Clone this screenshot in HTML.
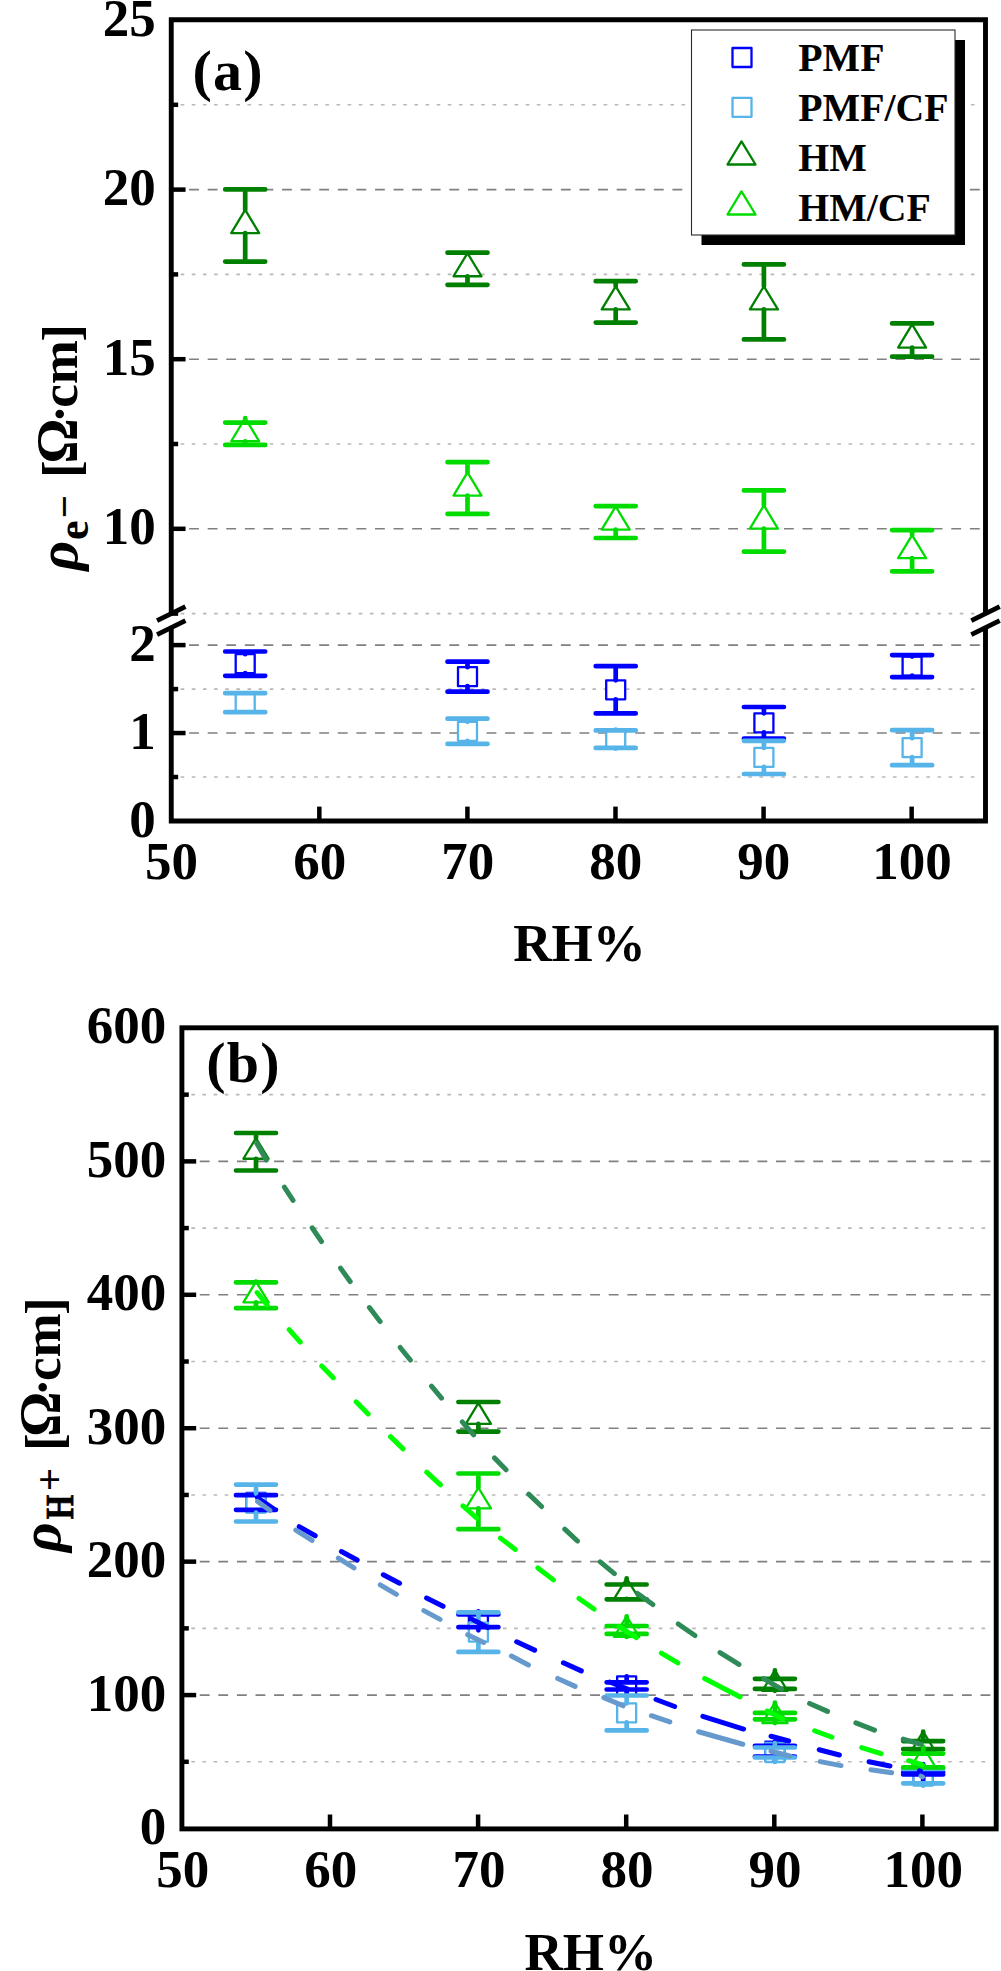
<!DOCTYPE html>
<html lang="en"><head><meta charset="utf-8"><title>Resistivity vs RH%</title>
<style>html,body{margin:0;padding:0;background:#fff}svg{display:block}</style></head>
<body>
<svg width="1001" height="1971" viewBox="0 0 1001 1971" font-family="'Liberation Serif', 'DejaVu Serif', serif" font-weight="bold" fill="#000">
<rect width="1001" height="1971" fill="#fff"/>
<g id="panelA">
<line x1="169.55" y1="104.8" x2="980" y2="104.8" stroke="#b8b8b8" stroke-width="1.6" stroke-dasharray="3.6 7.53" stroke-dashoffset="0"/>
<line x1="169.55" y1="274.4" x2="980" y2="274.4" stroke="#b8b8b8" stroke-width="1.6" stroke-dasharray="3.6 7.53" stroke-dashoffset="0"/>
<line x1="169.55" y1="444" x2="980" y2="444" stroke="#b8b8b8" stroke-width="1.6" stroke-dasharray="3.6 7.53" stroke-dashoffset="0"/>
<line x1="169.55" y1="613.6" x2="980" y2="613.6" stroke="#b8b8b8" stroke-width="1.6" stroke-dasharray="3.6 7.53" stroke-dashoffset="0"/>
<line x1="169.55" y1="689.08" x2="980" y2="689.08" stroke="#b8b8b8" stroke-width="1.6" stroke-dasharray="3.6 7.53" stroke-dashoffset="0"/>
<line x1="169.55" y1="777.02" x2="980" y2="777.02" stroke="#b8b8b8" stroke-width="1.6" stroke-dasharray="3.6 7.53" stroke-dashoffset="0"/>
<line x1="170.5" y1="189.6" x2="980.5" y2="189.6" stroke="#808080" stroke-width="1.6" stroke-dasharray="9.85 8.74" stroke-dashoffset="0"/>
<line x1="170.5" y1="359.2" x2="980.5" y2="359.2" stroke="#808080" stroke-width="1.6" stroke-dasharray="9.85 8.74" stroke-dashoffset="0"/>
<line x1="170.5" y1="528.8" x2="980.5" y2="528.8" stroke="#808080" stroke-width="1.6" stroke-dasharray="9.85 8.74" stroke-dashoffset="0"/>
<line x1="170.5" y1="645.1" x2="980.5" y2="645.1" stroke="#808080" stroke-width="1.6" stroke-dasharray="9.85 8.74" stroke-dashoffset="0"/>
<line x1="170.5" y1="733.05" x2="980.5" y2="733.05" stroke="#808080" stroke-width="1.6" stroke-dasharray="9.85 8.74" stroke-dashoffset="0"/>
<path d="M171.25 613.7V19.8H985.5V613.7M171.25 627.7V821H985.5V627.7" fill="none" stroke="#000" stroke-width="4.9" stroke-linejoin="miter"/>
<line x1="157.05" y1="620.7" x2="185.45" y2="606.7" stroke="#000" stroke-width="4.8"/>
<line x1="157.05" y1="634.7" x2="185.45" y2="620.7" stroke="#000" stroke-width="4.8"/>
<line x1="971.3" y1="620.7" x2="999.7" y2="606.7" stroke="#000" stroke-width="4.8"/>
<line x1="971.3" y1="634.7" x2="999.7" y2="620.7" stroke="#000" stroke-width="4.8"/>
<line x1="171.25" y1="189.6" x2="185.55" y2="189.6" stroke="#000" stroke-width="4.5"/>
<line x1="171.25" y1="359.2" x2="185.55" y2="359.2" stroke="#000" stroke-width="4.5"/>
<line x1="171.25" y1="528.8" x2="185.55" y2="528.8" stroke="#000" stroke-width="4.5"/>
<line x1="171.25" y1="645.1" x2="185.55" y2="645.1" stroke="#000" stroke-width="4.5"/>
<line x1="171.25" y1="733.05" x2="185.55" y2="733.05" stroke="#000" stroke-width="4.5"/>
<line x1="171.25" y1="104.8" x2="178.15" y2="104.8" stroke="#000" stroke-width="4.5"/>
<line x1="171.25" y1="274.4" x2="178.15" y2="274.4" stroke="#000" stroke-width="4.5"/>
<line x1="171.25" y1="444" x2="178.15" y2="444" stroke="#000" stroke-width="4.5"/>
<line x1="171.25" y1="613.6" x2="178.15" y2="613.6" stroke="#000" stroke-width="4.5"/>
<line x1="171.25" y1="689.08" x2="178.15" y2="689.08" stroke="#000" stroke-width="4.5"/>
<line x1="171.25" y1="777.02" x2="178.15" y2="777.02" stroke="#000" stroke-width="4.5"/>
<line x1="319.33" y1="821" x2="319.33" y2="806.6" stroke="#000" stroke-width="4.5"/>
<line x1="467.41" y1="821" x2="467.41" y2="806.6" stroke="#000" stroke-width="4.5"/>
<line x1="615.49" y1="821" x2="615.49" y2="806.6" stroke="#000" stroke-width="4.5"/>
<line x1="763.57" y1="821" x2="763.57" y2="806.6" stroke="#000" stroke-width="4.5"/>
<line x1="911.65" y1="821" x2="911.65" y2="806.6" stroke="#000" stroke-width="4.5"/>
<text x="155.75" y="35.5" font-size="53" text-anchor="end">25</text>
<text x="155.75" y="205.1" font-size="53" text-anchor="end">20</text>
<text x="155.75" y="374.7" font-size="53" text-anchor="end">15</text>
<text x="155.75" y="544.3" font-size="53" text-anchor="end">10</text>
<text x="155.75" y="660.6" font-size="53" text-anchor="end">2</text>
<text x="155.75" y="748.55" font-size="53" text-anchor="end">1</text>
<text x="155.75" y="836.5" font-size="53" text-anchor="end">0</text>
<text x="171.55" y="878.6" font-size="53" text-anchor="middle">50</text>
<text x="319.63" y="878.6" font-size="53" text-anchor="middle">60</text>
<text x="467.71" y="878.6" font-size="53" text-anchor="middle">70</text>
<text x="615.79" y="878.6" font-size="53" text-anchor="middle">80</text>
<text x="763.87" y="878.6" font-size="53" text-anchor="middle">90</text>
<text x="911.95" y="878.6" font-size="53" text-anchor="middle">100</text>
<text x="579.38" y="960.6" font-size="53" text-anchor="middle">RH%</text>
<text x="192.6" y="89.8" font-size="58" text-anchor="start" letter-spacing="1.2">(a)</text>
<g transform="translate(77 572) rotate(-90)">
<text x="1.4" y="0" font-size="57.5" font-style="italic">ρ</text>
<text x="32" y="11" font-size="44">e</text>
<text x="53.8" y="1.1" font-size="41">−</text>
<text x="94.1" y="2" font-size="53">[</text>
<text transform="translate(108.4 0) scale(0.94 1)" font-size="60">Ω</text>
<text x="149.2" y="0" font-size="53">·</text>
<text x="164.2" y="0" font-size="53">cm</text>
<text x="230.3" y="2" font-size="53">]</text>
</g>
<rect x="235.7" y="654.15" width="19" height="19" fill="#fff" stroke="#0000ff" stroke-width="2.3" stroke-linejoin="round"/>
<rect x="458" y="667.2" width="19" height="19" fill="#fff" stroke="#0000ff" stroke-width="2.3" stroke-linejoin="round"/>
<rect x="606.2" y="680.3" width="19" height="19" fill="#fff" stroke="#0000ff" stroke-width="2.3" stroke-linejoin="round"/>
<rect x="754.4" y="713.35" width="19" height="19" fill="#fff" stroke="#0000ff" stroke-width="2.3" stroke-linejoin="round"/>
<rect x="902.6" y="656.6" width="19" height="19" fill="#fff" stroke="#0000ff" stroke-width="2.3" stroke-linejoin="round"/>
<rect x="235.7" y="693.2" width="19" height="19" fill="#fff" stroke="#56b4e9" stroke-width="2.3" stroke-linejoin="round"/>
<rect x="458" y="721.8" width="19" height="19" fill="#fff" stroke="#56b4e9" stroke-width="2.3" stroke-linejoin="round"/>
<rect x="606.2" y="729.65" width="19" height="19" fill="#fff" stroke="#56b4e9" stroke-width="2.3" stroke-linejoin="round"/>
<rect x="754.4" y="747.9" width="19" height="19" fill="#fff" stroke="#56b4e9" stroke-width="2.3" stroke-linejoin="round"/>
<rect x="902.6" y="738.2" width="19" height="19" fill="#fff" stroke="#56b4e9" stroke-width="2.3" stroke-linejoin="round"/>
<path d="M245.2 209.93L259.2 233.03L231.2 233.03Z" fill="#fff" stroke="#008000" stroke-width="2.3" stroke-linejoin="round"/>
<path d="M467.5 253.15L481.5 276.25L453.5 276.25Z" fill="#fff" stroke="#008000" stroke-width="2.3" stroke-linejoin="round"/>
<path d="M615.7 286.3L629.7 309.4L601.7 309.4Z" fill="#fff" stroke="#008000" stroke-width="2.3" stroke-linejoin="round"/>
<path d="M763.9 286.3L777.9 309.4L749.9 309.4Z" fill="#fff" stroke="#008000" stroke-width="2.3" stroke-linejoin="round"/>
<path d="M912.1 324.45L926.1 347.55L898.1 347.55Z" fill="#fff" stroke="#008000" stroke-width="2.3" stroke-linejoin="round"/>
<path d="M245.2 418.15L259.2 441.25L231.2 441.25Z" fill="#fff" stroke="#00dc00" stroke-width="2.3" stroke-linejoin="round"/>
<path d="M467.5 472.45L481.5 495.55L453.5 495.55Z" fill="#fff" stroke="#00dc00" stroke-width="2.3" stroke-linejoin="round"/>
<path d="M615.7 506.45L629.7 529.55L601.7 529.55Z" fill="#fff" stroke="#00dc00" stroke-width="2.3" stroke-linejoin="round"/>
<path d="M763.9 505.45L777.9 528.55L749.9 528.55Z" fill="#fff" stroke="#00dc00" stroke-width="2.3" stroke-linejoin="round"/>
<path d="M912.1 535.1L926.1 558.2L898.1 558.2Z" fill="#fff" stroke="#00dc00" stroke-width="2.3" stroke-linejoin="round"/>
<path d="M245.2 654.15V651.5M245.2 673.15V675.8M225.2 651.5H265.2M225.2 675.8H265.2" fill="none" stroke="#0000ff" stroke-width="4.7" stroke-linecap="round"/>
<path d="M467.5 667.2V661.7M467.5 686.2V691.7M447.5 661.7H487.5M447.5 691.7H487.5" fill="none" stroke="#0000ff" stroke-width="4.7" stroke-linecap="round"/>
<path d="M615.7 680.3V666.2M615.7 699.3V713.4M595.7 666.2H635.7M595.7 713.4H635.7" fill="none" stroke="#0000ff" stroke-width="4.7" stroke-linecap="round"/>
<path d="M763.9 713.35V707M763.9 732.35V738.7M743.9 707H783.9M743.9 738.7H783.9" fill="none" stroke="#0000ff" stroke-width="4.7" stroke-linecap="round"/>
<path d="M912.1 656.6V655.1M912.1 675.6V677.1M892.1 655.1H932.1M892.1 677.1H932.1" fill="none" stroke="#0000ff" stroke-width="4.7" stroke-linecap="round"/>
<path d="M245.2 693.2V693.2M245.2 712.2V712.2M225.2 693.2H265.2M225.2 712.2H265.2" fill="none" stroke="#56b4e9" stroke-width="4.7" stroke-linecap="round"/>
<path d="M467.5 721.8V718.7M467.5 740.8V743.9M447.5 718.7H487.5M447.5 743.9H487.5" fill="none" stroke="#56b4e9" stroke-width="4.7" stroke-linecap="round"/>
<path d="M615.7 729.65V730.4M615.7 748.65V747.9M595.7 730.4H635.7M595.7 747.9H635.7" fill="none" stroke="#56b4e9" stroke-width="4.7" stroke-linecap="round"/>
<path d="M763.9 747.9V740.8M763.9 766.9V774M743.9 740.8H783.9M743.9 774H783.9" fill="none" stroke="#56b4e9" stroke-width="4.7" stroke-linecap="round"/>
<path d="M912.1 738.2V730.2M912.1 757.2V765.2M892.1 730.2H932.1M892.1 765.2H932.1" fill="none" stroke="#56b4e9" stroke-width="4.7" stroke-linecap="round"/>
<path d="M245.2 209.93V189.45M245.2 233.03V261.6M225.2 189.45H265.2M225.2 261.6H265.2" fill="none" stroke="#008000" stroke-width="4.7" stroke-linecap="round"/>
<path d="M467.5 253.15V252.7M467.5 276.25V284.8M447.5 252.7H487.5M447.5 284.8H487.5" fill="none" stroke="#008000" stroke-width="4.7" stroke-linecap="round"/>
<path d="M615.7 286.3V281.2M615.7 309.4V322.6M595.7 281.2H635.7M595.7 322.6H635.7" fill="none" stroke="#008000" stroke-width="4.7" stroke-linecap="round"/>
<path d="M763.9 286.3V264.4M763.9 309.4V339.4M743.9 264.4H783.9M743.9 339.4H783.9" fill="none" stroke="#008000" stroke-width="4.7" stroke-linecap="round"/>
<path d="M912.1 324.45V323.4M912.1 347.55V356.7M892.1 323.4H932.1M892.1 356.7H932.1" fill="none" stroke="#008000" stroke-width="4.7" stroke-linecap="round"/>
<path d="M245.2 418.15V422.6M245.2 441.25V444.9M225.2 422.6H265.2M225.2 444.9H265.2" fill="none" stroke="#00dc00" stroke-width="4.7" stroke-linecap="round"/>
<path d="M467.5 472.45V462.2M467.5 495.55V513.9M447.5 462.2H487.5M447.5 513.9H487.5" fill="none" stroke="#00dc00" stroke-width="4.7" stroke-linecap="round"/>
<path d="M615.7 506.45V506.1M615.7 529.55V538M595.7 506.1H635.7M595.7 538H635.7" fill="none" stroke="#00dc00" stroke-width="4.7" stroke-linecap="round"/>
<path d="M763.9 505.45V490.4M763.9 528.55V551.7M743.9 490.4H783.9M743.9 551.7H783.9" fill="none" stroke="#00dc00" stroke-width="4.7" stroke-linecap="round"/>
<path d="M912.1 535.1V530.1M912.1 558.2V571.3M892.1 530.1H932.1M892.1 571.3H932.1" fill="none" stroke="#00dc00" stroke-width="4.7" stroke-linecap="round"/>
<rect x="701.5" y="40" width="263.5" height="205" fill="#000"/>
<rect x="691.5" y="30" width="263.5" height="205" fill="#fff" stroke="#2a2a2a" stroke-width="1.1"/>
<rect x="732.5" y="48" width="19" height="19" fill="#fff" stroke="#0000ff" stroke-width="2.3" stroke-linejoin="round"/>
<rect x="732.5" y="97.8" width="19" height="19" fill="#fff" stroke="#56b4e9" stroke-width="2.3" stroke-linejoin="round"/>
<path d="M741.5 141.4L755.5 164.5L727.5 164.5Z" fill="#fff" stroke="#008000" stroke-width="2.3" stroke-linejoin="round"/>
<path d="M741.5 191.4L755.5 214.5L727.5 214.5Z" fill="#fff" stroke="#00dc00" stroke-width="2.3" stroke-linejoin="round"/>
<text x="798.3" y="71.2" font-size="39.8" text-anchor="start">PMF</text>
<text x="798.3" y="121" font-size="39.8" text-anchor="start">PMF/CF</text>
<text x="798.3" y="170.8" font-size="39.8" text-anchor="start">HM</text>
<text x="798.3" y="220.6" font-size="39.8" text-anchor="start">HM/CF</text>
</g>
<g id="panelB">
<line x1="180.2" y1="1761.79" x2="990.7" y2="1761.79" stroke="#b8b8b8" stroke-width="1.6" stroke-dasharray="3.6 7.53" stroke-dashoffset="0"/>
<line x1="180.2" y1="1628.36" x2="990.7" y2="1628.36" stroke="#b8b8b8" stroke-width="1.6" stroke-dasharray="3.6 7.53" stroke-dashoffset="0"/>
<line x1="180.2" y1="1494.94" x2="990.7" y2="1494.94" stroke="#b8b8b8" stroke-width="1.6" stroke-dasharray="3.6 7.53" stroke-dashoffset="0"/>
<line x1="180.2" y1="1361.51" x2="990.7" y2="1361.51" stroke="#b8b8b8" stroke-width="1.6" stroke-dasharray="3.6 7.53" stroke-dashoffset="0"/>
<line x1="180.2" y1="1228.09" x2="990.7" y2="1228.09" stroke="#b8b8b8" stroke-width="1.6" stroke-dasharray="3.6 7.53" stroke-dashoffset="0"/>
<line x1="180.2" y1="1094.66" x2="990.7" y2="1094.66" stroke="#b8b8b8" stroke-width="1.6" stroke-dasharray="3.6 7.53" stroke-dashoffset="0"/>
<line x1="181.15" y1="1695.08" x2="991.2" y2="1695.08" stroke="#808080" stroke-width="1.6" stroke-dasharray="9.85 8.74" stroke-dashoffset="0"/>
<line x1="181.15" y1="1561.65" x2="991.2" y2="1561.65" stroke="#808080" stroke-width="1.6" stroke-dasharray="9.85 8.74" stroke-dashoffset="0"/>
<line x1="181.15" y1="1428.22" x2="991.2" y2="1428.22" stroke="#808080" stroke-width="1.6" stroke-dasharray="9.85 8.74" stroke-dashoffset="0"/>
<line x1="181.15" y1="1294.8" x2="991.2" y2="1294.8" stroke="#808080" stroke-width="1.6" stroke-dasharray="9.85 8.74" stroke-dashoffset="0"/>
<line x1="181.15" y1="1161.38" x2="991.2" y2="1161.38" stroke="#808080" stroke-width="1.6" stroke-dasharray="9.85 8.74" stroke-dashoffset="0"/>
<rect x="181.9" y="1027.8" width="814.3" height="801.1" fill="none" stroke="#000" stroke-width="4.9"/>
<line x1="181.9" y1="1695.08" x2="196.2" y2="1695.08" stroke="#000" stroke-width="4.5"/>
<line x1="181.9" y1="1561.65" x2="196.2" y2="1561.65" stroke="#000" stroke-width="4.5"/>
<line x1="181.9" y1="1428.22" x2="196.2" y2="1428.22" stroke="#000" stroke-width="4.5"/>
<line x1="181.9" y1="1294.8" x2="196.2" y2="1294.8" stroke="#000" stroke-width="4.5"/>
<line x1="181.9" y1="1161.38" x2="196.2" y2="1161.38" stroke="#000" stroke-width="4.5"/>
<line x1="181.9" y1="1761.79" x2="188.8" y2="1761.79" stroke="#000" stroke-width="4.5"/>
<line x1="181.9" y1="1628.36" x2="188.8" y2="1628.36" stroke="#000" stroke-width="4.5"/>
<line x1="181.9" y1="1494.94" x2="188.8" y2="1494.94" stroke="#000" stroke-width="4.5"/>
<line x1="181.9" y1="1361.51" x2="188.8" y2="1361.51" stroke="#000" stroke-width="4.5"/>
<line x1="181.9" y1="1228.09" x2="188.8" y2="1228.09" stroke="#000" stroke-width="4.5"/>
<line x1="181.9" y1="1094.66" x2="188.8" y2="1094.66" stroke="#000" stroke-width="4.5"/>
<line x1="330" y1="1828.9" x2="330" y2="1814.5" stroke="#000" stroke-width="4.5"/>
<line x1="478.1" y1="1828.9" x2="478.1" y2="1814.5" stroke="#000" stroke-width="4.5"/>
<line x1="626.2" y1="1828.9" x2="626.2" y2="1814.5" stroke="#000" stroke-width="4.5"/>
<line x1="774.3" y1="1828.9" x2="774.3" y2="1814.5" stroke="#000" stroke-width="4.5"/>
<line x1="922.4" y1="1828.9" x2="922.4" y2="1814.5" stroke="#000" stroke-width="4.5"/>
<text x="166.2" y="1844" font-size="53" text-anchor="end">0</text>
<text x="166.2" y="1710.58" font-size="53" text-anchor="end">100</text>
<text x="166.2" y="1577.15" font-size="53" text-anchor="end">200</text>
<text x="166.2" y="1443.72" font-size="53" text-anchor="end">300</text>
<text x="166.2" y="1310.3" font-size="53" text-anchor="end">400</text>
<text x="166.2" y="1176.88" font-size="53" text-anchor="end">500</text>
<text x="166.2" y="1043.45" font-size="53" text-anchor="end">600</text>
<text x="182.7" y="1886.8" font-size="53" text-anchor="middle">50</text>
<text x="330.8" y="1886.8" font-size="53" text-anchor="middle">60</text>
<text x="478.9" y="1886.8" font-size="53" text-anchor="middle">70</text>
<text x="627" y="1886.8" font-size="53" text-anchor="middle">80</text>
<text x="775.1" y="1886.8" font-size="53" text-anchor="middle">90</text>
<text x="923.2" y="1886.8" font-size="53" text-anchor="middle">100</text>
<text x="590.75" y="1969.5" font-size="53" text-anchor="middle">RH%</text>
<text x="206.3" y="1081.7" font-size="58" text-anchor="start" letter-spacing="1.2">(b)</text>
<g transform="translate(60 1553.5) rotate(-90)">
<text x="1.4" y="0" font-size="57.5" font-style="italic">ρ</text>
<text transform="translate(34.3 12.8) scale(0.8 1)" font-size="39.2" stroke="#000" stroke-width="0.8">H</text>
<text x="62.3" y="3.4" font-size="41">+</text>
<text x="102.4" y="2" font-size="53">[</text>
<text transform="translate(116.7 0) scale(0.94 1)" font-size="60">Ω</text>
<text x="157.5" y="0" font-size="53">·</text>
<text x="172.5" y="0" font-size="53">cm</text>
<text x="238.6" y="2" font-size="53">]</text>
</g>
<rect x="246.5" y="1493" width="19" height="19" fill="#fff" stroke="#0000ff" stroke-width="2.3" stroke-linejoin="round"/>
<rect x="468.89" y="1611.35" width="19" height="19" fill="#fff" stroke="#0000ff" stroke-width="2.3" stroke-linejoin="round"/>
<rect x="617.15" y="1676.4" width="19" height="19" fill="#fff" stroke="#0000ff" stroke-width="2.3" stroke-linejoin="round"/>
<rect x="765.41" y="1741.65" width="19" height="19" fill="#fff" stroke="#0000ff" stroke-width="2.3" stroke-linejoin="round"/>
<rect x="913.67" y="1764" width="19" height="19" fill="#fff" stroke="#0000ff" stroke-width="2.3" stroke-linejoin="round"/>
<rect x="246.5" y="1493.55" width="19" height="19" fill="#fff" stroke="#56b4e9" stroke-width="2.3" stroke-linejoin="round"/>
<rect x="468.89" y="1622.65" width="19" height="19" fill="#fff" stroke="#56b4e9" stroke-width="2.3" stroke-linejoin="round"/>
<rect x="617.15" y="1703.45" width="19" height="19" fill="#fff" stroke="#56b4e9" stroke-width="2.3" stroke-linejoin="round"/>
<rect x="765.41" y="1743" width="19" height="19" fill="#fff" stroke="#56b4e9" stroke-width="2.3" stroke-linejoin="round"/>
<rect x="913.67" y="1766.65" width="19" height="19" fill="#fff" stroke="#56b4e9" stroke-width="2.3" stroke-linejoin="round"/>
<path d="M256 1138.15L268.6 1158.75L243.4 1158.75Z" fill="#fff" stroke="#008000" stroke-width="2.3" stroke-linejoin="round"/>
<path d="M478.39 1403.2L490.99 1423.8L465.79 1423.8Z" fill="#fff" stroke="#008000" stroke-width="2.3" stroke-linejoin="round"/>
<path d="M626.65 1578.3L639.25 1598.9L614.05 1598.9Z" fill="#fff" stroke="#008000" stroke-width="2.3" stroke-linejoin="round"/>
<path d="M774.91 1670.25L787.51 1690.85L762.31 1690.85Z" fill="#fff" stroke="#008000" stroke-width="2.3" stroke-linejoin="round"/>
<path d="M923.17 1731.55L935.77 1752.15L910.57 1752.15Z" fill="#fff" stroke="#008000" stroke-width="2.3" stroke-linejoin="round"/>
<path d="M256 1281.7L268.6 1302.3L243.4 1302.3Z" fill="#fff" stroke="#00dc00" stroke-width="2.3" stroke-linejoin="round"/>
<path d="M478.39 1487.75L490.99 1508.35L465.79 1508.35Z" fill="#fff" stroke="#00dc00" stroke-width="2.3" stroke-linejoin="round"/>
<path d="M626.65 1616.35L639.25 1636.95L614.05 1636.95Z" fill="#fff" stroke="#00dc00" stroke-width="2.3" stroke-linejoin="round"/>
<path d="M774.91 1702.5L787.51 1723.1L762.31 1723.1Z" fill="#fff" stroke="#00dc00" stroke-width="2.3" stroke-linejoin="round"/>
<path d="M923.17 1746.9L935.77 1767.5L910.57 1767.5Z" fill="#fff" stroke="#00dc00" stroke-width="2.3" stroke-linejoin="round"/>
<path d="M256 1493V1495.2M256 1512V1509.8M236 1495.2H276M236 1509.8H276" fill="none" stroke="#0000ff" stroke-width="4.7" stroke-linecap="round"/>
<path d="M478.39 1611.35V1614.5M478.39 1630.35V1627.2M458.39 1614.5H498.39M458.39 1627.2H498.39" fill="none" stroke="#0000ff" stroke-width="4.7" stroke-linecap="round"/>
<path d="M626.65 1676.4V1682.3M626.65 1695.4V1689.5M606.65 1682.3H646.65M606.65 1689.5H646.65" fill="none" stroke="#0000ff" stroke-width="4.7" stroke-linecap="round"/>
<path d="M774.91 1741.65V1745.8M774.91 1760.65V1756.5M754.91 1745.8H794.91M754.91 1756.5H794.91" fill="none" stroke="#0000ff" stroke-width="4.7" stroke-linecap="round"/>
<path d="M923.17 1764V1772.5M923.17 1783V1774.5M903.17 1772.5H943.17M903.17 1774.5H943.17" fill="none" stroke="#0000ff" stroke-width="4.7" stroke-linecap="round"/>
<path d="M256 1493.55V1484.6M256 1512.55V1521.5M236 1484.6H276M236 1521.5H276" fill="none" stroke="#56b4e9" stroke-width="4.7" stroke-linecap="round"/>
<path d="M478.39 1622.65V1612.4M478.39 1641.65V1651.9M458.39 1612.4H498.39M458.39 1651.9H498.39" fill="none" stroke="#56b4e9" stroke-width="4.7" stroke-linecap="round"/>
<path d="M626.65 1703.45V1695.5M626.65 1722.45V1730.4M606.65 1695.5H646.65M606.65 1730.4H646.65" fill="none" stroke="#56b4e9" stroke-width="4.7" stroke-linecap="round"/>
<path d="M774.91 1743V1747.5M774.91 1762V1757.5M754.91 1747.5H794.91M754.91 1757.5H794.91" fill="none" stroke="#56b4e9" stroke-width="4.7" stroke-linecap="round"/>
<path d="M923.17 1766.65V1769M923.17 1785.65V1783.3M903.17 1769H943.17M903.17 1783.3H943.17" fill="none" stroke="#56b4e9" stroke-width="4.7" stroke-linecap="round"/>
<path d="M256 1138.15V1133M256 1158.75V1170.5M236 1133H276M236 1170.5H276" fill="none" stroke="#008000" stroke-width="4.7" stroke-linecap="round"/>
<path d="M478.39 1403.2V1402M478.39 1423.8V1431.6M458.39 1402H498.39M458.39 1431.6H498.39" fill="none" stroke="#008000" stroke-width="4.7" stroke-linecap="round"/>
<path d="M626.65 1578.3V1584.5M626.65 1598.9V1599.3M606.65 1584.5H646.65M606.65 1599.3H646.65" fill="none" stroke="#008000" stroke-width="4.7" stroke-linecap="round"/>
<path d="M774.91 1670.25V1678.8M774.91 1690.85V1688.9M754.91 1678.8H794.91M754.91 1688.9H794.91" fill="none" stroke="#008000" stroke-width="4.7" stroke-linecap="round"/>
<path d="M923.17 1731.55V1741.1M923.17 1752.15V1749.2M903.17 1741.1H943.17M903.17 1749.2H943.17" fill="none" stroke="#008000" stroke-width="4.7" stroke-linecap="round"/>
<path d="M256 1281.7V1282.4M256 1302.3V1308.2M236 1282.4H276M236 1308.2H276" fill="none" stroke="#00dc00" stroke-width="4.7" stroke-linecap="round"/>
<path d="M478.39 1487.75V1473.5M478.39 1508.35V1529.2M458.39 1473.5H498.39M458.39 1529.2H498.39" fill="none" stroke="#00dc00" stroke-width="4.7" stroke-linecap="round"/>
<path d="M626.65 1616.35V1626M626.65 1636.95V1633.9M606.65 1626H646.65M606.65 1633.9H646.65" fill="none" stroke="#00dc00" stroke-width="4.7" stroke-linecap="round"/>
<path d="M774.91 1702.5V1712.9M774.91 1723.1V1719.3M754.91 1712.9H794.91M754.91 1719.3H794.91" fill="none" stroke="#00dc00" stroke-width="4.7" stroke-linecap="round"/>
<path d="M923.17 1746.9V1753.6M923.17 1767.5V1767.4M903.17 1753.6H943.17M903.17 1767.4H943.17" fill="none" stroke="#00dc00" stroke-width="4.7" stroke-linecap="round"/>
<path d="M257.56 1497.91L273.94 1509.09M299.17 1526.64L315.23 1535.76M341.4 1551.58L357.2 1560.02M383.32 1574.76L399.58 1583.24M426.54 1598.02L443.06 1606.28M470.91 1618.66L487.79 1627.54M516.67 1641.76L534.63 1650.14M563.38 1662.73L581.32 1670.87M609.63 1682.01L627.47 1688.99M656.04 1699.48L674.66 1706.52M702.89 1716.34L743.61 1729.06M771.02 1736.24L788.68 1740.96M819.22 1749.73L839.38 1754.97M869.05 1761.7L889.95 1766M919.44 1770.83L920.56 1771.07" fill="none" stroke="#0000ff" stroke-width="5" stroke-linecap="round"/>
<path d="M257.52 1501.47L269.98 1510.53M295.81 1530.04L312.09 1540.36M338.33 1558.21L353.97 1567.89M380.26 1584.86L396.44 1594.34M423.8 1610.59L440.1 1619.41M467.75 1634.7L483.75 1642.5M511.41 1656.06L528.49 1665.04M557.68 1678.43L575.12 1686.37M603.8 1697.58L623.1 1705.82M651.37 1715.71L669.83 1721.99M698.61 1731.78L742.79 1744.22M771.02 1751.21L789.88 1755.99M820.25 1761.58L841.05 1765.62M870.88 1769.85L891.72 1772.75M921.03 1776.13L922.47 1776.87" fill="none" stroke="#6699cc" stroke-width="5" stroke-linecap="round"/>
<path d="M256.75 1143.37L266.35 1160.03M284.37 1187.09L293.03 1200.31M312.11 1227.77L321.49 1241.53M340.55 1268.13L350.15 1281.57M369.41 1307.59L380.09 1321.61M400.17 1347.45L410.33 1360.05M431.5 1386.12L441.5 1398.08M462.25 1421.88L473.65 1434.82M494.54 1457.9L506.06 1469.8M528.7 1494.13L541.6 1506.57M564.73 1529.11L577.47 1540.99M600.22 1561.8L614.38 1573.6M637.53 1593.46L652.87 1604.54M678.25 1623.93L694.95 1635.57M720.02 1652.52L738.98 1664.38M763.75 1678.67L781.45 1689.13M809.58 1703.42L827.52 1711.38M855.83 1722.82L874.47 1730.18M903.2 1739.1L921.1 1744.3" fill="none" stroke="#2e8b57" stroke-width="5" stroke-linecap="round"/>
<path d="M257.08 1292.54L267.12 1304.86M289.16 1329.67L300.24 1342.13M321.75 1365.99L333.25 1377.71M356.16 1401.78L368.14 1413.92M390.5 1436.64L403.1 1448.86M426.73 1472.1L440.47 1484.9M462.97 1505.96L476.73 1518.14M500.48 1538.12L515.32 1549.48M537.88 1567.92L553.42 1579.88M578.95 1598.44L594.05 1609.06M619.1 1626.55L636.4 1637.65M661.35 1653.08L677.85 1662.92M704.62 1678.55L740.18 1696.95M767.14 1711.02L782.66 1718.78M814.64 1730.77L831.96 1737.23M861.68 1747.55L881.02 1753.65M908.6 1760.69L922.3 1764.61" fill="none" stroke="#00ff00" stroke-width="5" stroke-linecap="round"/>
</g>
</svg>
</body></html>
